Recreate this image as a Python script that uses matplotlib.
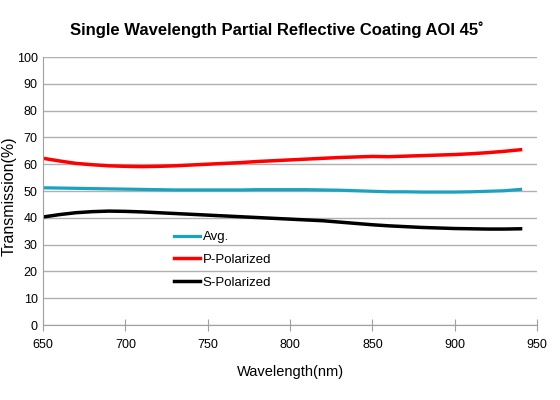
import matplotlib
matplotlib.use("Agg")
import matplotlib.pyplot as plt

plt.rcParams['font.family'] = ['Liberation Sans', 'DejaVu Sans']

# wavelength (nm)
wl = [650, 660, 670, 680, 690, 700, 710, 720, 730, 740, 750, 760, 770, 780, 790,
      800, 810, 820, 830, 840, 850, 860, 870, 880, 890, 900, 910, 920, 930, 940]
p_pol = [62.2, 61.2, 60.3, 59.8, 59.4, 59.2, 59.1, 59.2, 59.4, 59.7, 60.0, 60.3, 60.6, 61.0, 61.3,
         61.6, 61.9, 62.2, 62.5, 62.7, 62.9, 62.8, 63.0, 63.2, 63.4, 63.6, 63.9, 64.3, 64.8, 65.4]
avg = [51.2, 51.1, 51.0, 50.9, 50.8, 50.7, 50.6, 50.5, 50.4, 50.4, 50.4, 50.4, 50.4, 50.5, 50.5,
       50.5, 50.5, 50.4, 50.3, 50.1, 49.9, 49.7, 49.7, 49.6, 49.6, 49.6, 49.7, 49.9, 50.1, 50.6]
s_pol = [40.3, 41.2, 41.9, 42.3, 42.5, 42.4, 42.2, 41.9, 41.6, 41.3, 41.0, 40.7, 40.4, 40.1, 39.8,
         39.5, 39.2, 38.9, 38.4, 37.9, 37.4, 37.0, 36.7, 36.4, 36.2, 36.0, 35.9, 35.8, 35.8, 35.9]

xticks = [650, 700, 750, 800, 850, 900, 950]
yticks = list(range(0, 101, 10))

fig = plt.figure(figsize=(5.6, 4), dpi=100)
ax = fig.add_axes([0.077, 0.1875, 0.882, 0.67])

ax.plot(wl, avg, '-', color='#1aa3bf', lw=2.3, label="Avg.")
ax.plot(wl, p_pol, '-', color='#ff0000', lw=2.5, label="P-Polarized")
ax.plot(wl, s_pol, '-', color='black', lw=2.5, label="S-Polarized")

ax.set_xlim(650, 950)
ax.set_ylim(0, 100)
ax.set_xticks(xticks)
ax.set_yticks(yticks)
ax.grid(True, axis='y', color='#b0b0b0', lw=1)
ax.set_axisbelow(True)
for s in ['top', 'right']:
    ax.spines[s].set_visible(False)
for s in ['left', 'bottom']:
    ax.spines[s].set_color('#a0a0a0')
ax.tick_params(axis='y', length=0, labelsize=9, pad=4)
ax.tick_params(axis='x', direction='inout', length=8, color='#a0a0a0', labelsize=9, pad=6)

ax.set_xlabel("Wavelength(nm)", fontsize=10.5, labelpad=10)
ax.set_ylabel("Transmission(%)", fontsize=11.5)
ax.yaxis.set_label_coords(-0.053, 0.48)
fig.text(0.495, 0.925, "Single Wavelength Partial Reflective Coating AOI 45˚",
         ha='center', va='center', fontsize=12, fontweight='bold')

ax.legend(loc='upper left', bbox_to_anchor=(0.24, 0.395), frameon=False,
          fontsize=9.5, handlelength=2.0, handletextpad=0.2, labelspacing=0.8)

plt.savefig("out.png", dpi=100)
